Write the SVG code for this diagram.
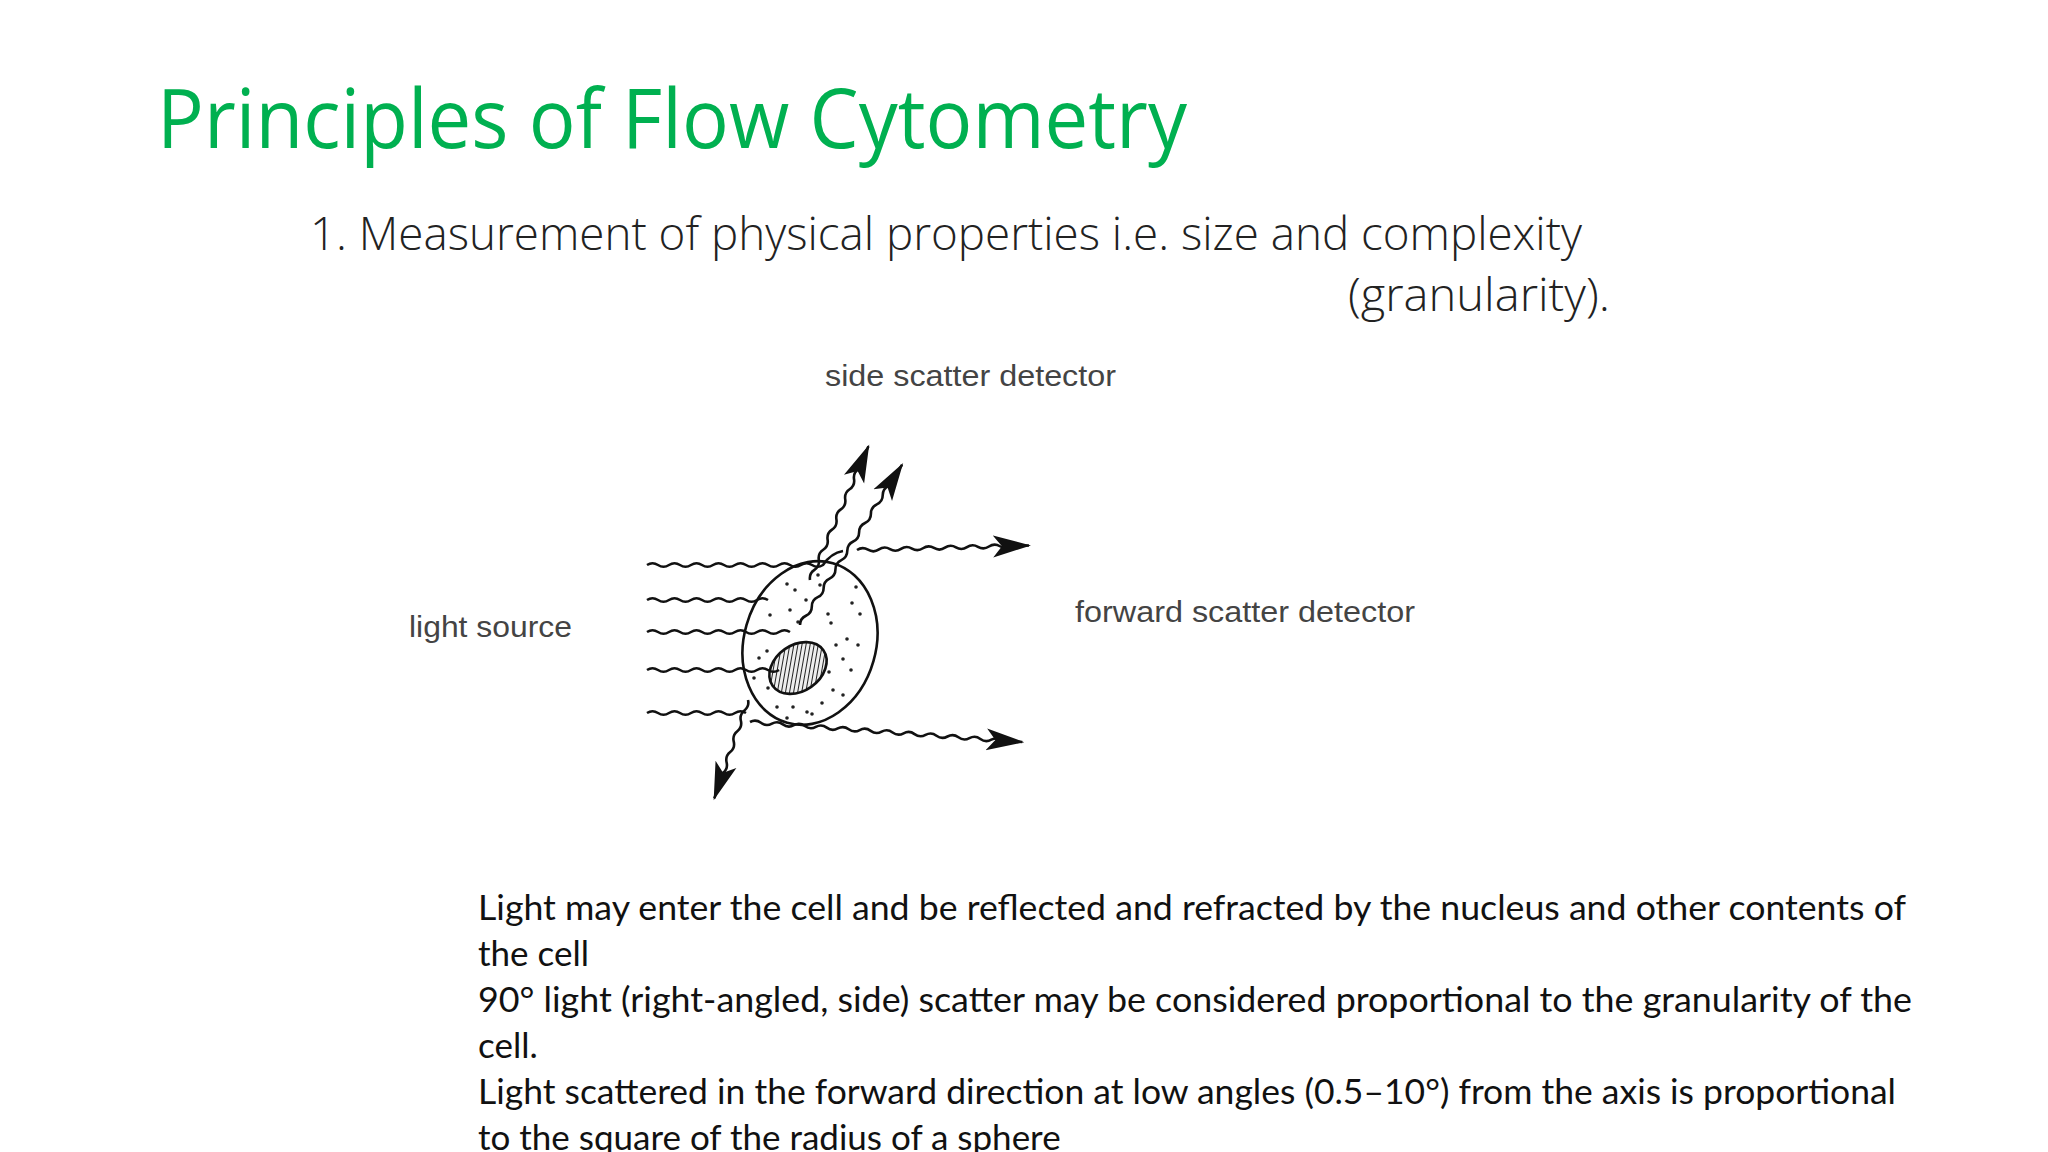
<svg xmlns="http://www.w3.org/2000/svg" width="2048" height="1152" viewBox="0 0 2048 1152">
<style>
.w{fill:none;stroke:#111;stroke-width:2.6}
.lbl{font-family:"Liberation Sans",Arial,sans-serif;font-size:30px;fill:#444}
.body{font-family:Lato,"Open Sans",sans-serif;font-size:35px;fill:#111}
</style>
<defs>
<marker id="ah" markerUnits="userSpaceOnUse" markerWidth="40" markerHeight="26" refX="36" refY="13" orient="auto"><path d="M0,2 L38,13 L0,24 L9,13 Z" fill="#111"/></marker>
<pattern id="hatch" width="4" height="4" patternUnits="userSpaceOnUse" patternTransform="rotate(45)"><rect width="4" height="4" fill="#eee"/><line x1="0" y1="0" x2="0" y2="4" stroke="#222" stroke-width="2"/></pattern>
</defs>
<rect width="2048" height="1152" fill="#fff"/>
<g id="title"><text x="157" y="148" font-family="'Open Sans',Lato,sans-serif" font-weight="500" font-size="82" fill="#00B050" textLength="1030" lengthAdjust="spacingAndGlyphs">Principles of Flow Cytometry</text></g>
<g id="subtitle" font-family="'Open Sans',Lato,sans-serif" font-weight="300" font-size="46" fill="#222">
<text x="310" y="250" textLength="1272" lengthAdjust="spacingAndGlyphs">1. Measurement of physical properties i.e. size and complexity</text>
<text x="1348" y="311" textLength="262" lengthAdjust="spacingAndGlyphs">(granularity).</text>
</g>
<g id="labels">
<text class="lbl" x="825" y="386" textLength="291" lengthAdjust="spacingAndGlyphs">side scatter detector</text>
<text class="lbl" x="409" y="637" textLength="163" lengthAdjust="spacingAndGlyphs">light source</text>
<text class="lbl" x="1075" y="622" textLength="340" lengthAdjust="spacingAndGlyphs">forward scatter detector</text>
</g>
<g id="cell">
<ellipse cx="810" cy="643" rx="66" ry="83" transform="rotate(16 810 643)" fill="#fff" stroke="#111" stroke-width="2.6"/>
<ellipse cx="798" cy="668" rx="31" ry="23" transform="rotate(-35 798 668)" fill="url(#hatch)" stroke="#111" stroke-width="2.6"/>
<g fill="#222">
<circle cx="787" cy="584" r="1.8"/><circle cx="795" cy="590" r="1.8"/><circle cx="818" cy="575" r="1.8"/><circle cx="820" cy="585" r="1.8"/><circle cx="806" cy="600" r="1.8"/><circle cx="790" cy="610" r="1.8"/><circle cx="770" cy="615" r="1.8"/><circle cx="798" cy="622" r="1.8"/><circle cx="856" cy="587" r="1.8"/><circle cx="852" cy="603" r="1.8"/><circle cx="860" cy="614" r="1.8"/><circle cx="828" cy="614" r="1.8"/><circle cx="831" cy="623" r="1.8"/><circle cx="847" cy="639" r="1.8"/><circle cx="858" cy="645" r="1.8"/><circle cx="836" cy="645" r="1.8"/><circle cx="843" cy="659" r="1.8"/><circle cx="851" cy="670" r="1.8"/><circle cx="829" cy="672" r="1.8"/><circle cx="833" cy="690" r="1.8"/><circle cx="843" cy="695" r="1.8"/><circle cx="822" cy="703" r="1.8"/><circle cx="807" cy="712" r="1.8"/><circle cx="793" cy="707" r="1.8"/><circle cx="777" cy="707" r="1.8"/><circle cx="787" cy="718" r="1.8"/><circle cx="812" cy="714" r="1.8"/><circle cx="759" cy="658" r="1.8"/><circle cx="767" cy="651" r="1.8"/><circle cx="754" cy="678" r="1.8"/><circle cx="768" cy="688" r="1.8"/>
</g>
</g>
<g id="connectors" class="w">
<path class="w" d="M647,565 q5.5,-3.5 11,0 t11,0 t11,0 t11,0 t11,0 t11,0 t11,0 t11,0 t11,0 t11,0 t11,0 t11,0 t11,0 t11,0 t11,0 t11,0 q8,-12 20,-14"/>
<path class="w" d="M857,550 q5.5,-3.5 11,0 t11,0 t11,0 t11,0 t11,0 t11,0 t11,0 t11,0 t11,0 t11,0 t11,0 t11,0 t11,0 t11,0 l18,0" transform="rotate(-1.5 857 550)" marker-end="url(#ah)"/>
<path class="w" d="M647,600 q5.5,-3.5 11,0 t11,0 t11,0 t11,0 t11,0 t11,0 t11,0 t11,0 t11,0 t11,0 t11,0"/>
<path class="w" d="M647,632 q5.5,-3.5 11,0 t11,0 t11,0 t11,0 t11,0 t11,0 t11,0 t11,0 t11,0 t11,0 t11,0 t11,0 t11,0"/>
<path class="w" d="M647,670 q5.5,-3.5 11,0 t11,0 t11,0 t11,0 t11,0 t11,0 t11,0 t11,0 t11,0 t11,0 t11,0 t11,0"/>
<path class="w" d="M647,713 q5.5,-3.5 11,0 t11,0 t11,0 t11,0 t11,0 t11,0 t11,0 t11,0 t11,0"/>
<path class="w" d="M0,0 q5.5,-3.5 11,0 t11,0 t11,0 t11,0 t11,0 t11,0 t11,0 t11,0 t11,0 t11,0 t11,0 t11,0 t11,0 t11,0 t11,0 t11,0 t11,0 t11,0 t11,0 t11,0 t11,0 t11,0 t11,0 l20,0" transform="translate(750,722) rotate(4.2)" marker-end="url(#ah)"/>
<path class="w" d="M0,0 q5.5,-3.5 11,0 t11,0 t11,0 t11,0 t11,0 t11,0 t11,0 t11,0 t11,0 t11,0 t11,0 t11,0 l14,0" transform="translate(810,580) rotate(-66.4)" marker-end="url(#ah)"/>
<path class="w" d="M0,0 q5.5,-3.5 11,0 t11,0 t11,0 t11,0 t11,0 t11,0 t11,0 t11,0 t11,0 t11,0 t11,0 t11,0 t11,0 t11,0 t11,0 t11,0 l14,0" transform="translate(800,625) rotate(-57.5)" marker-end="url(#ah)"/>
<path class="w" d="M0,0 q5.5,-3.5 11,0 t11,0 t11,0 t11,0 t11,0 t11,0 t11,0 t11,0 l16,0" transform="translate(748,700) rotate(108.9)" marker-end="url(#ah)"/>
</g>
<g id="paragraph" class="body">
<text class="body" x="478" y="920" textLength="1428" lengthAdjust="spacingAndGlyphs">Light may enter the cell and be reflected and refracted by the nucleus and other contents of</text>
<text class="body" x="478" y="966">the cell</text>
<text class="body" x="478" y="1012" textLength="1434" lengthAdjust="spacingAndGlyphs">90° light (right-angled, side) scatter may be considered proportional to the granularity of the</text>
<text class="body" x="478" y="1058">cell.</text>
<text class="body" x="478" y="1104" textLength="1418" lengthAdjust="spacingAndGlyphs">Light scattered in the forward direction at low angles (0.5–10°) from the axis is proportional</text>
<text class="body" x="478" y="1150">to the square of the radius of a sphere</text>
</g>
</svg>
